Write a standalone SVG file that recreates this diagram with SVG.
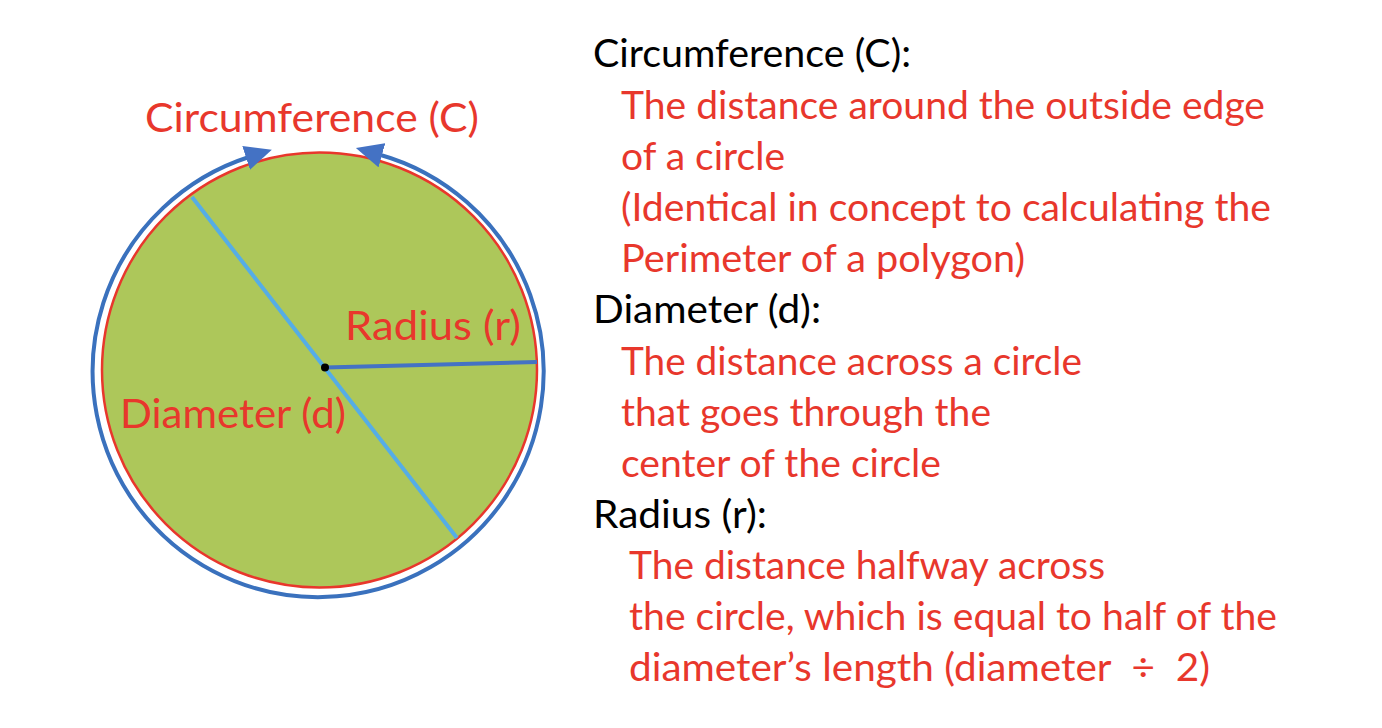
<svg xmlns="http://www.w3.org/2000/svg" width="1382" height="728" viewBox="0 0 1382 728">
<style>
.lbl{font-family:Lato,"Liberation Sans",sans-serif;font-size:41px;fill:#e8372c}
.hd{font-family:Lato,"Liberation Sans",sans-serif;font-size:39px;fill:#000}
.tx{font-family:Lato,"Liberation Sans",sans-serif;font-size:39px;fill:#e8372c}
</style>
<defs>
<marker id="ah" viewBox="0 0 27 25" refX="3" refY="12.5" markerWidth="27" markerHeight="25" markerUnits="userSpaceOnUse" orient="auto-start-reverse">
<path d="M0,0 L27,12.5 L0,25 z" fill="#4472c4"/>
</marker>
</defs>
<rect width="1382" height="728" fill="#fff"/>
<g id="circle">
<circle cx="319.5" cy="370" r="217.5" fill="#adc75a" stroke="#e8372c" stroke-width="2.5"/>
</g>
<g id="connectors">
<path id="circumference-arc" d="M 249 157 A 225.5 225.5 0 1 0 379 154.5" fill="none" stroke="#3a71bd" stroke-width="4" marker-start="url(#ah)" marker-end="url(#ah)"/>
<line id="diameter" x1="192" y1="197" x2="457" y2="538" stroke="#55ade6" stroke-width="4"/>
<line id="radius" x1="325" y1="367.5" x2="537" y2="362" stroke="#4472c4" stroke-width="4"/>
</g>
<g id="center"><circle cx="325" cy="367.5" r="4" fill="#000"/></g>
<g id="labels">
<text class="lbl" x="145" y="132" textLength="334" lengthAdjust="spacingAndGlyphs">Circumference (C)</text>
<text class="lbl" x="345" y="340" textLength="176" lengthAdjust="spacingAndGlyphs">Radius (r)</text>
<text class="lbl" x="120" y="428" textLength="226" lengthAdjust="spacingAndGlyphs">Diameter (d)</text>
</g>
<g id="definitions">
<text class="hd" x="593" y="67" textLength="318" lengthAdjust="spacingAndGlyphs">Circumference (C):</text>
<text class="tx" x="621" y="119" textLength="644" lengthAdjust="spacingAndGlyphs">The distance around the outside edge</text>
<text class="tx" x="621" y="170" textLength="164" lengthAdjust="spacingAndGlyphs">of a circle</text>
<text class="tx" x="621" y="221" textLength="650" lengthAdjust="spacingAndGlyphs">(Identical in concept to calculating the</text>
<text class="tx" x="621" y="272" textLength="404" lengthAdjust="spacingAndGlyphs">Perimeter of a polygon)</text>
<text class="hd" x="593" y="323" textLength="228" lengthAdjust="spacingAndGlyphs">Diameter (d):</text>
<text class="tx" x="621" y="375" textLength="461" lengthAdjust="spacingAndGlyphs">The distance across a circle</text>
<text class="tx" x="621" y="426" textLength="370" lengthAdjust="spacingAndGlyphs">that goes through the</text>
<text class="tx" x="621" y="477" textLength="320" lengthAdjust="spacingAndGlyphs">center of the circle</text>
<text class="hd" x="593" y="528" textLength="174" lengthAdjust="spacingAndGlyphs">Radius (r):</text>
<text class="tx" x="629" y="579" textLength="476" lengthAdjust="spacingAndGlyphs">The distance halfway across</text>
<text class="tx" x="629" y="630" textLength="648" lengthAdjust="spacingAndGlyphs">the circle, which is equal to half of the</text>
<text class="tx" x="629" y="681" textLength="581" lengthAdjust="spacingAndGlyphs" xml:space="preserve">diameter’s length (diameter  ÷  2)</text>
</g>
</svg>
